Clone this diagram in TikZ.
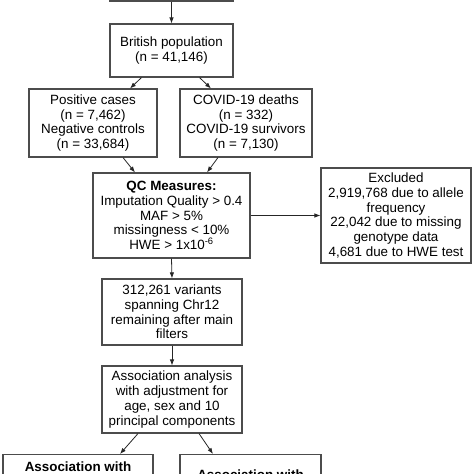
\documentclass[tikz,border=0pt]{standalone}
\usepackage{fontspec}
\setmainfont{Liberation Sans}
\usetikzlibrary{arrows.meta}
\tikzset{
  box/.style={draw=black!70, line width=1.1pt, align=center, inner sep=2pt,
    font=\fontsize{13.4}{14.8}\selectfont},
  arr/.style={draw=black!85, line width=0.8pt, -{Latex[length=6pt,width=4.5pt]}}
}
\begin{document}
\begin{tikzpicture}[x=1pt,y=-1pt]
  \useasboundingbox (0,0) rectangle (474,474);
  \node[box, minimum width=123pt, minimum height=40pt] (top) at (171.5,-19) {};
  \node[box, minimum width=123pt, minimum height=53pt] (brit) at (171.5,50.5) {British population\\(n = 41,146)};
  \node[box, minimum width=128pt, minimum height=68pt] (pos) at (93,123) {Positive cases\\(n = 7,462)\\Negative controls\\(n = 33,684)};
  \node[box, minimum width=132pt, minimum height=68pt] (death) at (246,123) {COVID-19 deaths\\(n = 332)\\COVID-19 survivors\\(n = 7,130)};
  \node[box, minimum width=157pt, minimum height=85pt] (qc) at (171.5,215.5) {\textbf{QC Measures:}\\Imputation Quality > 0.4\\MAF > 5\%\\missingness < 10\%\\HWE > 1x10\textsuperscript{-6}};
  \node[box, minimum width=150pt, minimum height=95pt] (excl) at (396,215.5) {Excluded\\2,919,768 due to allele\\frequency\\22,042 due to missing\\genotype data\\4,681 due to HWE test};
  \node[box, minimum width=140pt, minimum height=66pt] (vars) at (172,312) {312,261 variants\\spanning Chr12\\remaining after main\\filters};
  \node[box, minimum width=140pt, minimum height=67pt] (assoc) at (172,399.5) {Association analysis\\with adjustment for\\age, sex and 10\\principal components};
  \node[box, anchor=north, minimum width=150pt, inner ysep=7pt] (left) at (78,454) {\textbf{Association with}};
  \node[box, anchor=north, minimum width=141pt, inner ysep=15pt] (right) at (250.5,454) {\textbf{Association with}};
  \draw[arr] (top.south) -- (brit.north);
  \draw[arr] ([xshift=-30pt]brit.south) -- ([xshift=37pt]pos.north);
  \draw[arr] ([xshift=28pt]brit.south) -- ([xshift=-35pt]death.north);
  \draw[arr] ([xshift=30pt]pos.south) -- ([xshift=-36.5pt]qc.north);
  \draw[arr] ([xshift=-28pt]death.south) -- ([xshift=35.5pt]qc.north);
  \draw[arr] (qc.east) -- (excl.west);
  \draw[arr] (qc.south) -- (vars.north);
  \draw[arr] (vars.south) -- (assoc.north);
  \draw[arr] ([xshift=-34pt]assoc.south) -- ([xshift=42pt]left.north);
  \draw[arr] ([xshift=27pt]assoc.south) -- ([xshift=-37.5pt]right.north);
\end{tikzpicture}
\end{document}
